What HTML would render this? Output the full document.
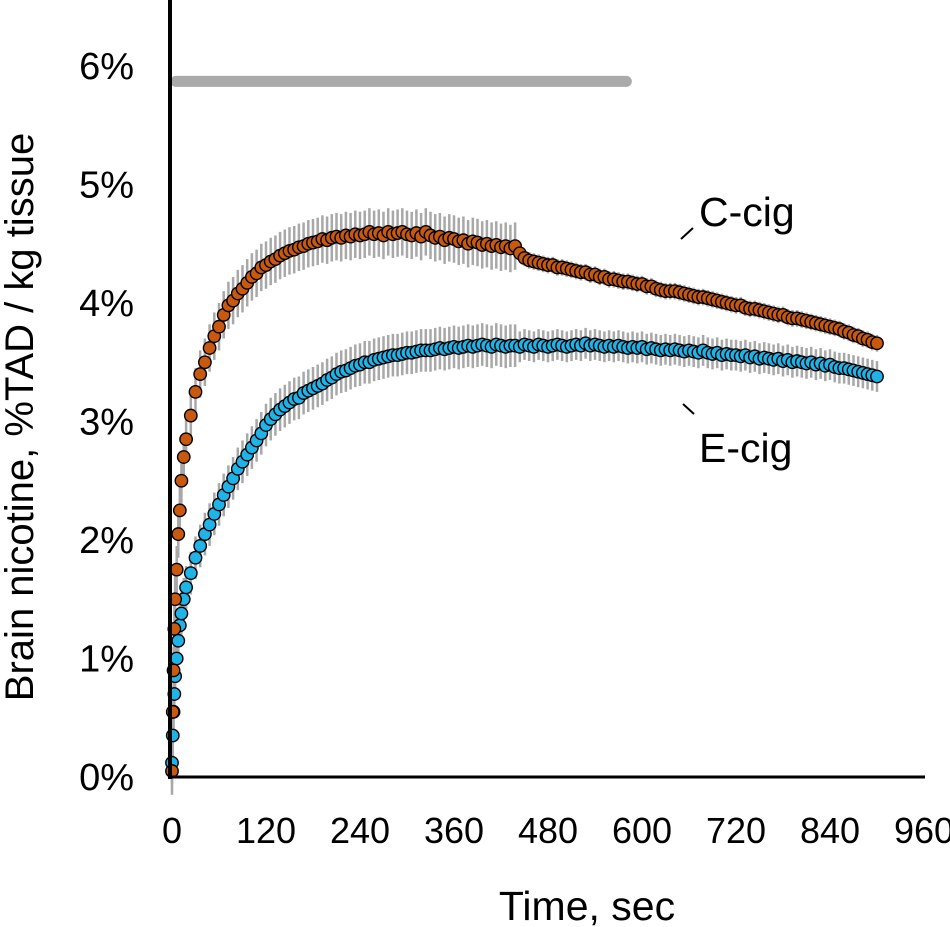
<!DOCTYPE html>
<html><head><meta charset="utf-8"><style>
html,body{margin:0;padding:0;background:#fff;}
svg{display:block;font-family:"Liberation Sans",Arial,sans-serif;}
</style></head><body>
<svg id="chart" width="950" height="927" viewBox="0 0 950 927" xmlns="http://www.w3.org/2000/svg">
<g id="bars"></g>
<g id="pts"></g>
<g id="axes"></g>
<text x="33" y="417" font-size="40" text-anchor="middle" transform="rotate(-90 33 417)">Brain nicotine, %TAD / kg tissue</text>
<text x="587" y="920" font-size="41" text-anchor="middle">Time, sec</text>
<text x="699" y="226" font-size="41">C-cig</text>
<line x1="681" y1="239" x2="693" y2="228" stroke="#000" stroke-width="2"/>
<text x="699" y="462" font-size="41">E-cig</text>
<line x1="683" y1="404" x2="694" y2="414" stroke="#000" stroke-width="2"/>
</svg>
<script>
const earlyTimes=[0,1,2,3,4,6,8,10,12,15,18];
const cValues=[0.05,0.55,0.9,1.25,1.5,1.75,2.05,2.25,2.5,2.7,2.85,
3.05,3.25,3.4,3.5,3.62,3.72,3.8,3.9,3.98,4.02,4.08,4.12,4.17,4.22,4.25,4.3,4.32,4.35,4.37,4.4,4.42,4.44,4.45,4.47,4.48,4.5,4.51,4.52,4.54,4.53,4.55,4.56,4.55,4.57,4.56,4.58,4.57,4.58,4.6,4.58,4.59,4.57,4.6,4.58,4.59,4.6,4.58,4.57,4.59,4.56,4.6,4.57,4.55,4.56,4.53,4.55,4.54,4.52,4.53,4.5,4.52,4.51,4.49,4.5,4.48,4.49,4.47,4.48,4.46,4.48,
4.42,4.38,4.36,4.35,4.34,4.33,4.32,4.32,4.3,4.3,4.29,4.28,4.27,4.26,4.26,4.24,4.24,4.22,4.22,4.2,4.2,4.19,4.18,4.18,4.17,4.16,4.16,4.14,4.14,4.12,4.11,4.1,4.1,4.1,4.09,4.08,4.07,4.06,4.05,4.05,4.04,4.03,4.02,4.01,4.0,3.99,3.98,3.98,3.96,3.95,3.95,3.94,3.93,3.92,3.91,3.9,3.9,3.88,3.87,3.87,3.86,3.85,3.84,3.83,3.82,3.81,3.8,3.79,3.78,3.76,3.75,3.73,3.72,3.7,3.69,3.67,3.66];
const eValues=[0.12,0.35,0.55,0.7,0.85,1.0,1.15,1.28,1.38,1.5,1.6,
1.72,1.85,1.95,2.05,2.13,2.22,2.3,2.38,2.45,2.52,2.6,2.66,2.72,2.78,2.84,2.9,2.97,3.02,3.06,3.1,3.13,3.16,3.19,3.2,3.24,3.26,3.28,3.3,3.32,3.35,3.37,3.4,3.42,3.43,3.45,3.47,3.48,3.5,3.5,3.52,3.53,3.54,3.55,3.56,3.56,3.57,3.58,3.58,3.59,3.6,3.6,3.6,3.61,3.62,3.61,3.62,3.63,3.62,3.63,3.64,3.63,3.64,3.65,3.64,3.63,3.65,3.64,3.63,3.64,3.64,3.63,3.65,3.64,3.63,3.65,3.64,3.63,3.64,3.65,3.64,3.63,3.64,3.65,3.64,3.66,3.64,3.65,3.64,3.63,3.64,3.63,3.64,3.63,3.62,3.63,3.62,3.63,3.61,3.62,3.61,3.6,3.61,3.6,3.61,3.6,3.59,3.6,3.59,3.58,3.6,3.58,3.57,3.58,3.56,3.57,3.56,3.56,3.55,3.56,3.54,3.55,3.53,3.54,3.53,3.52,3.53,3.51,3.52,3.5,3.51,3.5,3.49,3.5,3.48,3.49,3.47,3.48,3.46,3.45,3.45,3.44,3.43,3.42,3.41,3.4,3.39,3.38];
const errBreak=[440];
const cErr=[0.2,0.07];
const eErr=[0.18,0.13];
const refLevel=[5.87];
const refRange=[0,580];
const xTicks=[0,120,240,360,480,600,720,840,960];
const yTicks=[0,1,2,3,4,5,6];

const X=t=>172+t*(924-172)/960;
const Y=v=>777-118.5*v;
const NS="http://www.w3.org/2000/svg";
function mk(tag,attrs,parent){const e=document.createElementNS(NS,tag);for(const k in attrs)e.setAttribute(k,attrs[k]);parent.appendChild(e);return e;}
const times=earlyTimes.slice();
for(let t=24;t<=900;t+=6)times.push(t);
const bars=document.getElementById('bars'),pts=document.getElementById('pts'),axes=document.getElementById('axes'),svg=document.getElementById('chart');

const ref=mk('line',{x1:X(refRange[0])+4,x2:X(refRange[1]),y1:Y(refLevel[0]),y2:Y(refLevel[0]),stroke:'#aaaaaa','stroke-width':11,'stroke-linecap':'round'},bars);



function series(vals,errs,fill,name){
  const n=Math.min(vals.length,times.length);
  for(let i=0;i<n;i++){
    const er=times[i]<errBreak[0]?errs[0]:errs[1];
    const b=mk('line',{x1:X(times[i]),x2:X(times[i]),y1:Y(vals[i]-er),y2:Y(vals[i]+er),stroke:'#a8a8a8','stroke-width':2.5},bars);
    
    
  }
  for(let i=0;i<n;i++){
    const c=mk('circle',{cx:X(times[i]),cy:Y(vals[i]),r:6.2,fill:fill,stroke:'#000','stroke-width':1.4},pts);
    
    
  }
}
series(eValues,eErr,'#1fb4e8','e-cig');
series(cValues,cErr,'#c9590f','c-cig');

const ya=mk('line',{x1:170,x2:170,y1:0,y2:779,stroke:'#000','stroke-width':4},axes);


const xa=mk('line',{x1:168,x2:925,y1:777,y2:777,stroke:'#000','stroke-width':3},axes);


yTicks.forEach(v=>{
  const t=mk('text',{x:134,y:Y(v)+13,'font-size':38,'text-anchor':'end'},svg);
  t.textContent=v+'%';
  
  
});
xTicks.forEach(v=>{
  const t=mk('text',{x:X(v),y:843,'font-size':36,'text-anchor':'middle'},svg);
  t.textContent=v;
  
  
});
</script>
</body></html>
